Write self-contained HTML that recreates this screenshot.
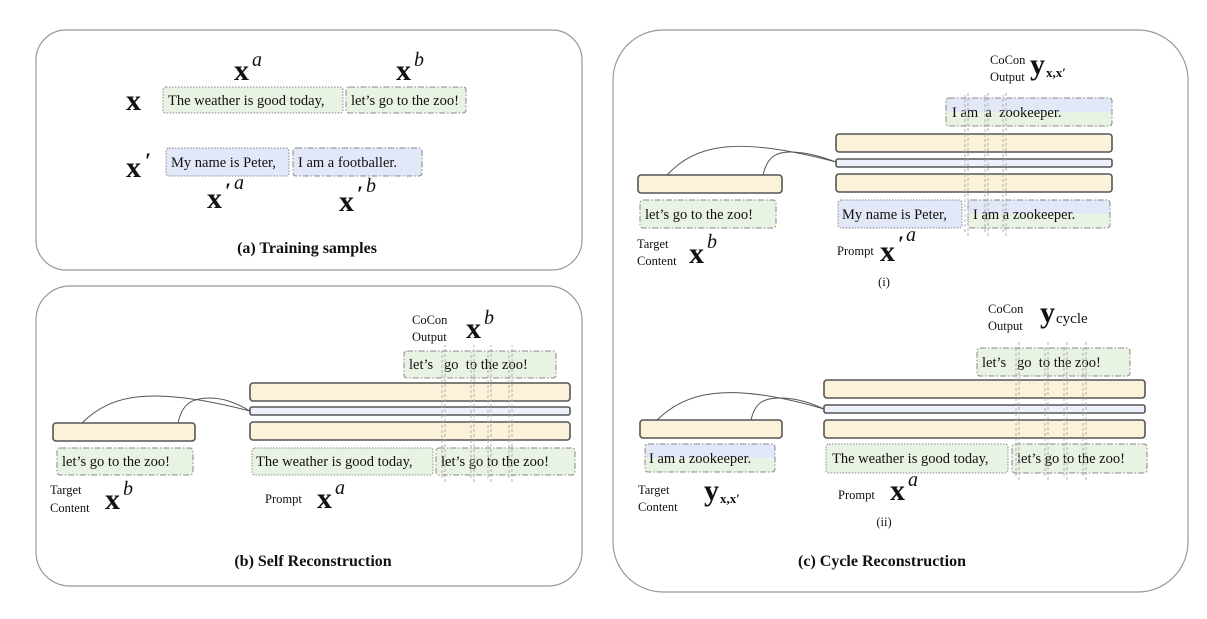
<!DOCTYPE html>
<html><head><meta charset="utf-8"><style>
html,body{margin:0;padding:0;background:#fff;}
svg{display:block;}
text{font-family:"Liberation Serif",serif;fill:#111;white-space:pre;}
.t{font-size:14.5px;}
.s{font-size:12.5px;}
.m{font-size:30px;font-weight:bold;}
.sup{font-size:20px;font-style:italic;}
.pr{font-size:22px;font-weight:bold;}
.ti{font-size:16px;font-weight:bold;}
.bar{fill:#fcf1d9;stroke:#555;stroke-width:1.6;}
.thin{fill:#ecf1fb;stroke:#555;stroke-width:1.6;}
.g{fill:#e9f3e3;stroke:#888;stroke-width:1;}
.b{fill:#e2e8f8;stroke:#888;stroke-width:1;}
.dot{stroke-dasharray:1.5 1.5;}
.dd{stroke-dasharray:6 2 1.5 2;}
.v{stroke:#aaa;stroke-width:0.9;stroke-dasharray:3 2;fill:none;}
.c{fill:none;stroke:#555;stroke-width:1;}
.p{fill:none;stroke:#999;stroke-width:1.2;}
</style></head><body>
<svg width="1207" height="619" viewBox="0 0 1207 619">
<rect class="p" x="36" y="30" width="546" height="240" rx="30"/>
<rect class="p" x="36" y="286" width="546" height="300" rx="34"/>
<rect class="p" x="613" y="30" width="575" height="562" rx="50"/>

<!-- (a) -->
<text class="m" x="126" y="110">x</text>
<rect class="g dot" x="163" y="87" width="180" height="26" rx="3"/>
<text class="t" x="168" y="105">The weather is good today,</text>
<rect class="g dd" x="346" y="87" width="120" height="26" rx="3"/>
<text class="t" x="351" y="105">let’s go to the zoo!</text>
<text class="m" x="234" y="80">x</text><text class="sup" x="252" y="66">a</text>
<text class="m" x="396" y="80">x</text><text class="sup" x="414" y="66">b</text>
<text class="m" x="126" y="177">x</text><text class="pr" x="145" y="168">′</text>
<rect class="b dot" x="166" y="148" width="123" height="28" rx="3"/>
<text class="t" x="171" y="167">My name is Peter,</text>
<rect class="b dd" x="293" y="148" width="129" height="28" rx="3"/>
<text class="t" x="298" y="167">I am a footballer.</text>
<text class="m" x="207" y="208">x</text><text class="pr" x="225" y="198">′</text><text class="sup" x="234" y="189">a</text>
<text class="m" x="339" y="211">x</text><text class="pr" x="357" y="201">′</text><text class="sup" x="366" y="192">b</text>
<text class="ti" x="307" y="253" text-anchor="middle">(a) Training samples</text>

<!-- (b) -->
<path class="c" d="M82 423 C110 395,150 385,250 411"/>
<path class="c" d="M178 423 C182 405,190 398,210 398 C225 398,240 405,250 411"/>
<rect class="bar" x="53" y="423" width="142" height="18" rx="3"/>
<rect class="bar" x="250" y="383" width="320" height="18" rx="3"/>
<rect class="thin" x="250" y="407" width="320" height="8" rx="2"/>
<rect class="bar" x="250" y="422" width="320" height="18" rx="3"/>
<rect class="g dd" x="57" y="448" width="136" height="27" rx="3"/>
<text class="t" x="62" y="466">let’s go to the zoo!</text>
<rect class="g dot" x="252" y="448" width="181" height="27" rx="3"/>
<text class="t" x="256" y="466">The weather is good today,</text>
<rect class="g dd" x="436" y="448" width="139" height="27" rx="3"/>
<text class="t" x="441" y="466">let’s go to the zoo!</text>
<rect class="g dd" x="404" y="351" width="152" height="27" rx="3"/>
<text class="t" x="409" y="369">let’s   go  to the zoo!</text>
<path class="v" d="M442 478 V352 M471 478 V352 M488 478 V352 M509 478 V352"/>
<path class="v" d="M445 482 V345 M474 482 V345 M491 482 V345 M512 482 V345"/>
<text class="s" x="412" y="324">CoCon</text><text class="s" x="412" y="341">Output</text>
<text class="m" x="466" y="338">x</text><text class="sup" x="484" y="324">b</text>
<text class="s" x="50" y="494">Target</text><text class="s" x="50" y="512">Content</text>
<text class="m" x="105" y="509">x</text><text class="sup" x="123" y="495">b</text>
<text class="s" x="265" y="503">Prompt</text>
<text class="m" x="317" y="508">x</text><text class="sup" x="335" y="494">a</text>
<text class="ti" x="313" y="566" text-anchor="middle">(b) Self Reconstruction</text>

<!-- (c)(i) -->
<path class="c" d="M667 175 C695 145,735 135,836 162"/>
<path class="c" d="M763 175 C767 158,775 152,790 152 C808 152,825 158,836 162"/>
<rect class="bar" x="638" y="175" width="144" height="18" rx="3"/>
<rect class="bar" x="836" y="134" width="276" height="18" rx="3"/>
<rect class="thin" x="836" y="159" width="276" height="8" rx="2"/>
<rect class="bar" x="836" y="174" width="276" height="18" rx="3"/>
<rect class="g dd" x="640" y="200" width="136" height="28" rx="3"/>
<text class="t" x="645" y="219">let’s go to the zoo!</text>
<rect class="b dot" x="838" y="200" width="124" height="28" rx="3"/>
<text class="t" x="842" y="219">My name is Peter,</text>
<rect x="968" y="200" width="142" height="14" fill="#e2e8f8"/><rect x="968" y="214" width="142" height="14" fill="#e9f3e3"/>
<rect class="dd" x="968" y="200" width="142" height="28" rx="3" fill="none" stroke="#888"/>
<text class="t" x="973" y="219">I am a zookeeper.</text>
<rect x="946" y="98" width="166" height="14" fill="#e2e8f8"/><rect x="946" y="112" width="166" height="14" fill="#e9f3e3"/>
<rect class="dd" x="946" y="98" width="166" height="28" rx="3" fill="none" stroke="#888"/>
<text class="t" x="952" y="117">I am  a  zookeeper.</text>
<path class="v" d="M965 232 V95 M985 232 V95 M1003 232 V95 M968 236 V93 M988 236 V93 M1006 236 V93"/>
<text class="s" x="990" y="64">CoCon</text><text class="s" x="990" y="81">Output</text>
<text class="m" x="1030" y="74">y</text><text style="font-weight:bold;font-size:13px" x="1046" y="77">x,x′</text>
<text class="s" x="637" y="248">Target</text><text class="s" x="637" y="265">Content</text>
<text class="m" x="689" y="263">x</text><text class="sup" x="707" y="248">b</text>
<text class="s" x="837" y="255">Prompt</text>
<text class="m" x="880" y="261">x</text><text class="pr" x="898" y="251">′</text><text class="sup" x="906" y="241">a</text>
<text class="s" x="884" y="286" text-anchor="middle">(i)</text>

<!-- (c)(ii) -->
<path class="c" d="M657 420 C685 393,725 380,824 409"/>
<path class="c" d="M751 420 C755 403,763 398,780 398 C798 398,813 404,824 409"/>
<rect class="bar" x="640" y="420" width="142" height="18" rx="3"/>
<rect class="bar" x="824" y="380" width="321" height="18" rx="3"/>
<rect class="thin" x="824" y="405" width="321" height="8" rx="2"/>
<rect class="bar" x="824" y="420" width="321" height="18" rx="3"/>
<rect x="645" y="444" width="130" height="14" fill="#e2e8f8"/><rect x="645" y="458" width="130" height="14" fill="#e9f3e3"/>
<rect class="dd" x="645" y="444" width="130" height="28" rx="3" fill="none" stroke="#888"/>
<text class="t" x="649" y="463">I am a zookeeper.</text>
<rect class="g dot" x="826" y="444" width="182" height="29" rx="3"/>
<text class="t" x="832" y="463">The weather is good today,</text>
<rect class="g dd" x="1012" y="444" width="135" height="29" rx="3"/>
<text class="t" x="1017" y="463">let’s go to the zoo!</text>
<rect class="g dd" x="977" y="348" width="153" height="28" rx="3"/>
<text class="t" x="982" y="367">let’s   go  to the zoo!</text>
<path class="v" d="M1016 476 V348 M1045 476 V348 M1064 476 V348 M1083 476 V348"/>
<path class="v" d="M1019 480 V342 M1048 480 V342 M1067 480 V342 M1086 480 V342"/>
<text class="s" x="988" y="313">CoCon</text><text class="s" x="988" y="330">Output</text>
<text class="m" x="1040" y="322">y</text><text x="1056" y="323" style="font-size:15px">cycle</text>
<text class="s" x="638" y="494">Target</text><text class="s" x="638" y="511">Content</text>
<text class="m" x="704" y="500">y</text><text style="font-weight:bold;font-size:13px" x="720" y="503">x,x′</text>
<text class="s" x="838" y="499">Prompt</text>
<text class="m" x="890" y="500">x</text><text class="sup" x="908" y="486">a</text>
<text class="s" x="884" y="526" text-anchor="middle">(ii)</text>
<text class="ti" x="882" y="566" text-anchor="middle">(c) Cycle Reconstruction</text>
</svg>
</body></html>
